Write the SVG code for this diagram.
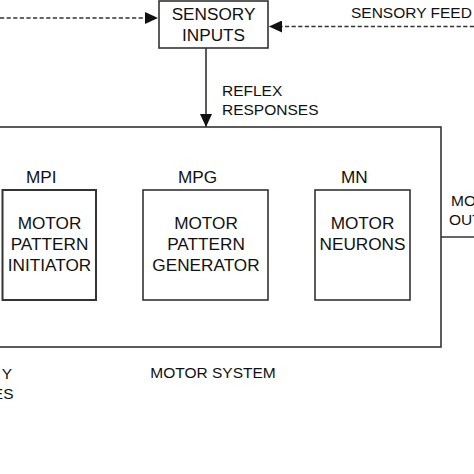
<svg xmlns="http://www.w3.org/2000/svg" width="474" height="474" viewBox="0 0 474 474">
<style>
.box{fill:#fff;stroke:#333;stroke-width:1.6}
.t{font-family:"Liberation Sans",Arial,sans-serif;fill:#111}
.b{font-size:17.2px}
.s{font-size:15.5px}
.c{text-anchor:middle}
.ln{stroke:#333;stroke-width:1.6;fill:none}
.dash{stroke-dasharray:4.2,2.4}
</style>
<defs>
<marker id="ah" markerWidth="14" markerHeight="12" refX="13" refY="6" orient="auto" markerUnits="userSpaceOnUse">
<path d="M0,0 L13,6 L0,12 Z" fill="#111"/>
</marker>
</defs>
<rect width="474" height="474" fill="#fff"/>
<g id="connectors">
<line class="ln dash" x1="0" y1="18" x2="158" y2="18" marker-end="url(#ah)"/>
<line class="ln dash" x1="474" y1="26.5" x2="269" y2="26.5" marker-end="url(#ah)"/>
<line class="ln" x1="206" y1="48" x2="206" y2="127" marker-end="url(#ah)"/>
<line class="ln" x1="96" y1="237" x2="142.5" y2="237" marker-end="url(#ah)"/>
<line class="ln" x1="268" y1="237" x2="314.5" y2="237" marker-end="url(#ah)"/>
<line class="ln" x1="441" y1="237" x2="474" y2="237"/>
</g>
<g id="motor-system">
<rect class="box" x="-10" y="127" width="451" height="220" fill="none"/>
<text class="t s c" x="213" y="378">MOTOR SYSTEM</text>
</g>
<g id="sensory-inputs">
<rect class="box" x="159" y="1" width="109" height="47"/>
<text class="t b c" x="213.5" y="20">SENSORY</text>
<text class="t b c" x="213.5" y="41">INPUTS</text>
</g>
<g id="reflex-label">
<text class="t s" x="222" y="95.5">REFLEX</text>
<text class="t s" x="222" y="115">RESPONSES</text>
</g>
<g id="sensory-feedback-label">
<text class="t s" x="351" y="17.5">SENSORY FEED</text>
</g>
<g id="mpi">
<text class="t b" x="26" y="182.5">MPI</text>
<rect class="box" x="2.5" y="190" width="93.5" height="110" style="stroke-width:2"/>
<text class="t b c" x="49.5" y="229">MOTOR</text>
<text class="t b c" x="49.5" y="250">PATTERN</text>
<text class="t b c" x="49.5" y="271">INITIATOR</text>
</g>
<g id="mpg">
<text class="t b" x="178" y="182.5">MPG</text>
<rect class="box" x="143" y="190" width="125" height="110"/>
<text class="t b c" x="206" y="229">MOTOR</text>
<text class="t b c" x="206" y="250">PATTERN</text>
<text class="t b c" x="206" y="271">GENERATOR</text>
</g>
<g id="mn">
<text class="t b" x="341" y="182.5">MN</text>
<rect class="box" x="315" y="190" width="95" height="110"/>
<text class="t b c" x="362.5" y="229">MOTOR</text>
<text class="t b c" x="362.5" y="250">NEURONS</text>
</g>
<g id="motor-output-label">
<text class="t s" x="451" y="205.5">MO</text>
<text class="t s" x="449" y="224.5">OUT</text>
</g>
<g id="left-label">
<text class="t s" x="12" y="379" text-anchor="end">Y</text>
<text class="t s" x="13.5" y="399" text-anchor="end">ES</text>
</g>
</svg>
